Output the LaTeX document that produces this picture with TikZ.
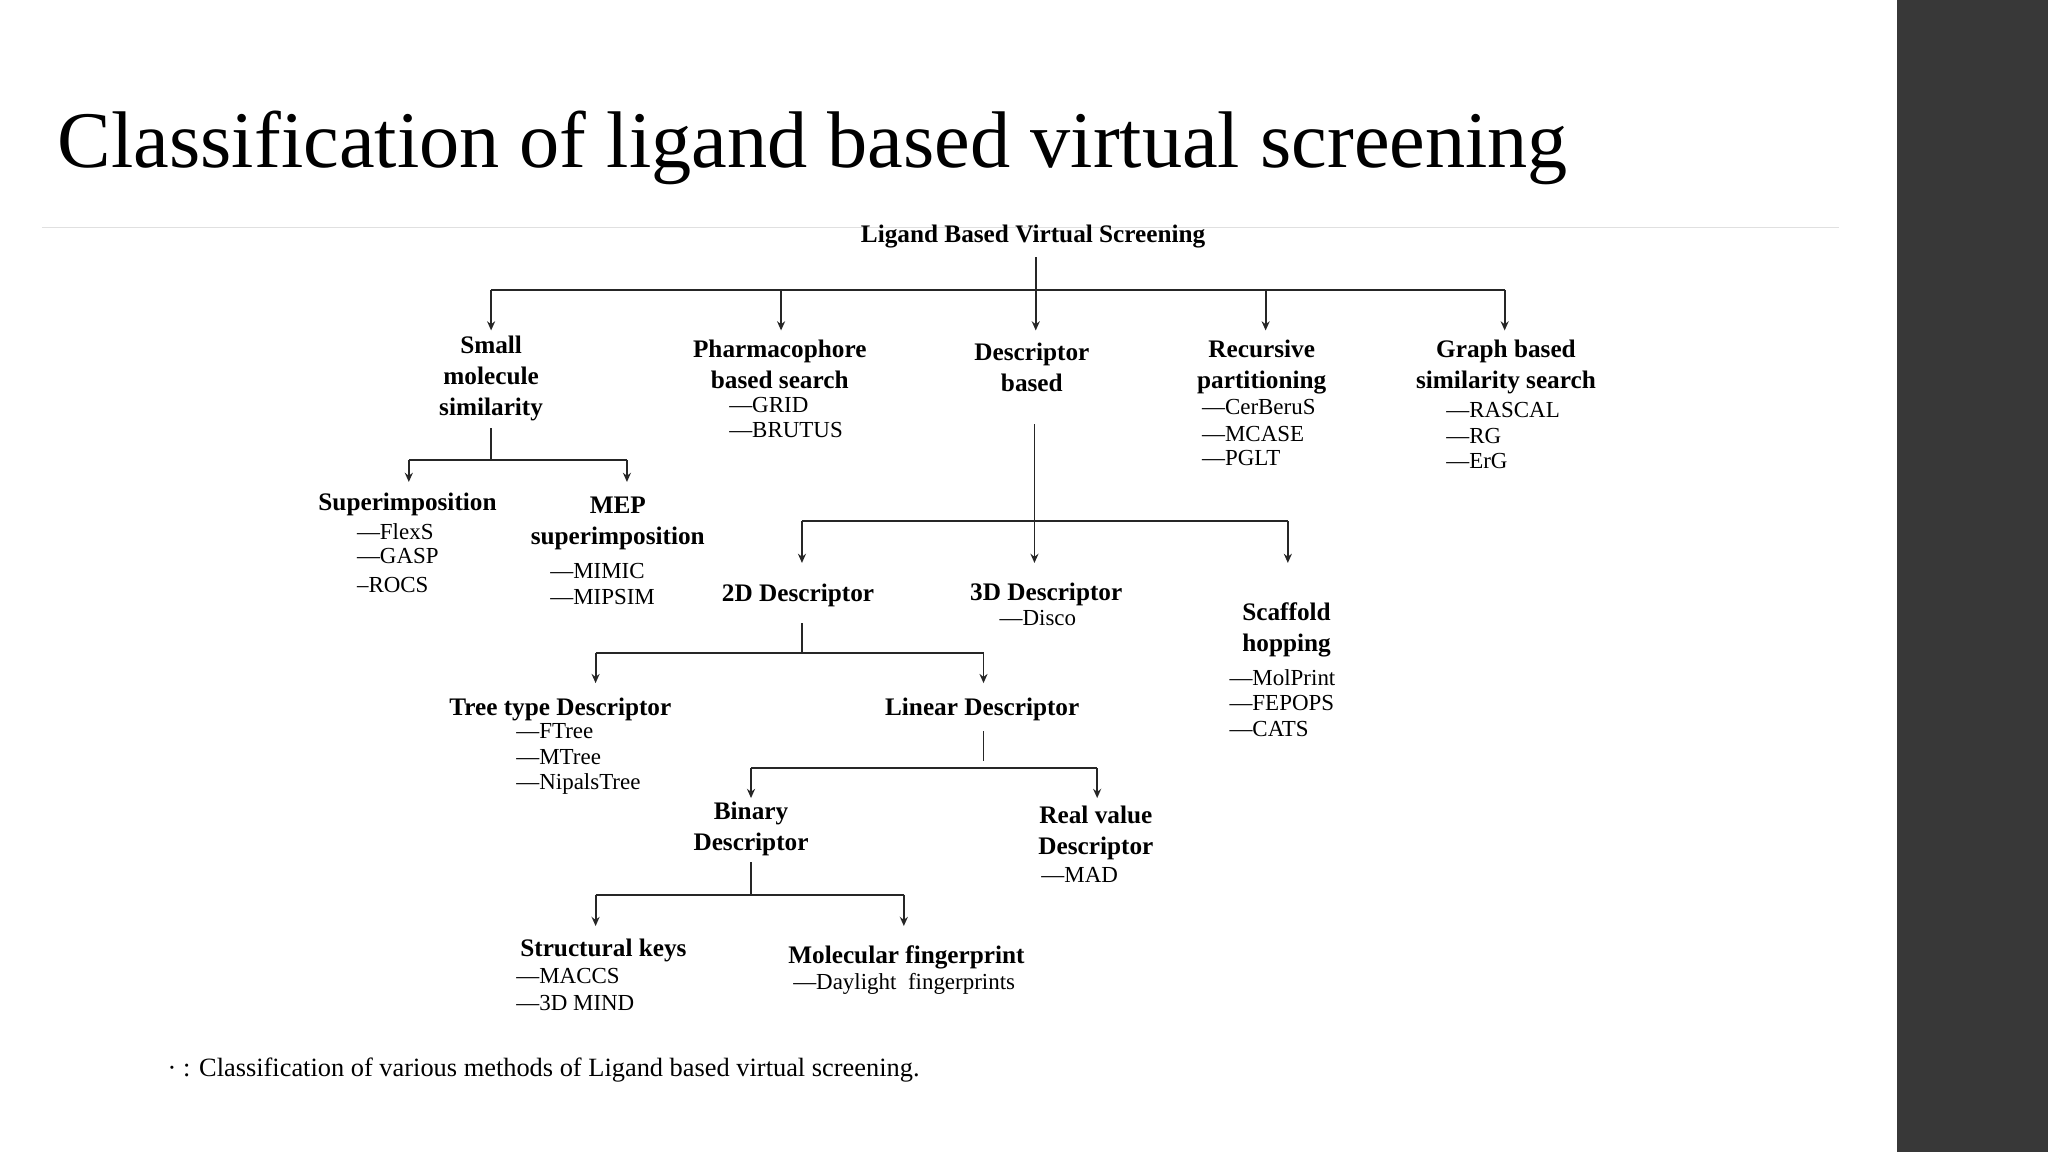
\documentclass[tikz,border=0pt]{standalone}
\usepackage{fontspec}
\setmainfont{Liberation Serif}
\usetikzlibrary{arrows.meta}
\begin{document}
\begin{tikzpicture}[x=0.02cm,y=-0.02cm,
  hd/.style={font=\fontsize{11}{13.5}\selectfont\bfseries,align=center,inner sep=0pt},
  it/.style={font=\fontsize{10}{12}\selectfont,anchor=west,inner sep=0pt},
  ln/.style={line width=0.8pt,black!85},
  ar/.style={ln,-{Stealth[length=4pt,width=3.5pt]}}]
\useasboundingbox (0,0) rectangle (1568,882);
\fill[white] (0,0) rectangle (1452,882);
\fill[black!78] (1452,0) rectangle (1568,882);
\node[anchor=base west,inner sep=0pt,font=\fontsize{35}{40}\selectfont] (title) at (44,128) {Classification of ligand based virtual screening};
\draw[black!12,line width=0.6pt] (32,174) coordinate (r1) -- (1408,174) coordinate (r2);
% root
\node[hd] (root) at (791,181) {Ligand Based Virtual Screening};
\coordinate (b0) at (793,222);
\draw[ln] (793,197) -- (b0);
\draw[ln] (376,222) coordinate (b0l) -- (1152,222) coordinate (b0r);
\foreach \x in {376,598,793,969,1152} \draw[ar] (\x,222) -- (\x,253);
% level 1
\node[hd] (sms) at (376,290) {Small\\molecule\\similarity};
\node[hd] (pha) at (597,279) {Pharmacophore\\based search};
\node[it] (grid) at (558,310) {—GRID};
\node[it] (brutus) at (558,329) {—BRUTUS};
\node[hd] (desc) at (790,281) {Descriptor\\based};
\node[hd] (rec) at (966,281) {Recursive\\partitioning};
\node[it] (cer) at (920,312) {—CerBeruS};
\node[it] (mcase) at (920,332) {—MCASE};
\node[it] (pglt) at (920,351) {—PGLT};
\node[hd] (graph) at (1153,281) {Graph based\\similarity search};
\node[it] (rascal) at (1107,314) {—RASCAL};
\node[it] (rg) at (1107,334) {—RG};
\node[it] (erg) at (1107,353) {—ErG};
% small molecule branch
\draw[ln] (376,328) -- (376,352);
\draw[ln] (313,352) -- (480,352);
\draw[ar] (313,352) -- (313,369);
\draw[ar] (480,352) -- (480,369);
\node[hd] (sup) at (312,386) {Superimposition};
\node[it] (flexs) at (273,407) {—FlexS};
\node[it] (gasp) at (273,426) {—GASP};
\node[it] (rocs) at (273,448) {--ROCS};
\node[hd] (mep) at (473,401) {MEP\\superimposition};
\node[it] (mimic) at (421,437) {—MIMIC};
\node[it] (mipsim) at (421,457) {—MIPSIM};
% descriptor branch
\draw[ln] (792,325) -- (792,399);
\draw[ln] (614,399) -- (986,399);
\foreach \x in {614,792,986} \draw[ar] (\x,399) -- (\x,431);
\node[hd] (d2) at (611,456) {2D Descriptor};
\node[hd] (d3) at (801,455) {3D Descriptor};
\node[it] (disco) at (765,473) {—Disco};
\node[hd] (scaf) at (985,482) {Scaffold\\hopping};
\node[it] (molprint) at (941,519) {—MolPrint};
\node[it] (fepops) at (941,538) {—FEPOPS};
\node[it] (cats) at (941,558) {—CATS};
% 2D branch
\draw[ln] (614,477) -- (614,500);
\draw[ln] (456,500) -- (753,500);
\draw[ar] (456,500) -- (456,523);
\draw[ar] (753,500) -- (753,523);
\node[hd] (tree) at (429,543) {Tree type Descriptor};
\node[it] (ftree) at (395,560) {—FTree};
\node[it] (mtree) at (395,580) {—MTree};
\node[it] (nipals) at (395,600) {—NipalsTree};
\node[hd] (lin) at (752,543) {Linear Descriptor};
% linear branch
\draw[ln] (753,560) -- (753,583);
\draw[ln] (575,588) -- (840,588);
\draw[ar] (575,588) -- (575,611);
\draw[ar] (840,588) -- (840,611);
\node[hd] (bin) at (575,635) {Binary\\Descriptor};
\node[hd] (real) at (839,638) {Real value\\Descriptor};
\node[it] (mad) at (797,670) {—MAD};
% binary branch
\draw[ln] (575,660) -- (575,685);
\draw[ln] (456,685) -- (692,685);
\draw[ar] (456,685) -- (456,709);
\draw[ar] (692,685) -- (692,709);
\node[hd] (skeys) at (462,728) {Structural keys};
\node[it] (maccs) at (395,747) {—MACCS};
\node[it] (mind) at (395,768) {—3D MIND};
\node[hd] (mfp) at (694,733) {Molecular fingerprint};
\node[it] (day) at (607,753) {—Daylight\ \ fingerprints};
% caption
\node[anchor=west,inner sep=0pt,font=\fontsize{11.5}{14}\selectfont] (cap) at (128,819) {· : Classification of various methods of Ligand based virtual screening.};
\end{tikzpicture}
\end{document}
